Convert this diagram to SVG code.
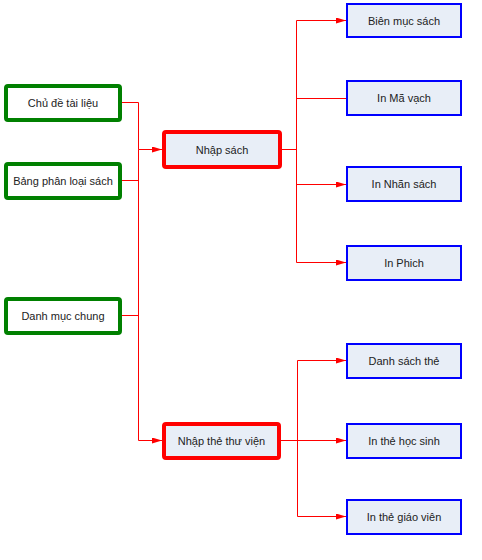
<svg xmlns="http://www.w3.org/2000/svg" width="482" height="560" viewBox="0 0 482 560">
<defs>
<style>
.g rect{fill:#ffffff;stroke:#008000;stroke-width:4}
.r rect{fill:#e8eef7;stroke:#ff0000;stroke-width:4}
.b rect{fill:#e8eef7;stroke:#0000ff;stroke-width:2}
text{font-family:"Liberation Sans",Arial,sans-serif;font-size:11px;fill:#222;text-anchor:middle;dominant-baseline:central}
.c path{fill:none;stroke:#ff0000;stroke-width:1}
</style>
<marker id="ah" viewBox="0 0 10 6" refX="10" refY="3" markerWidth="10" markerHeight="6" markerUnits="userSpaceOnUse" orient="auto">
<path d="M0,0 L10,3 L0,6 Z" fill="#ff0000"/>
</marker>
</defs>
<rect width="482" height="560" fill="#ffffff"/>
<g class="c" id="connectors">
<path d="M122,102.5 H138.5 V149.5 H162" marker-end="url(#ah)"/>
<path d="M122,180.5 H138.5"/>
<path d="M122,315.5 H138.5"/>
<path d="M138.5,149.5 V440.5 H162" marker-end="url(#ah)"/>
<path d="M282,149.5 H296.5"/>
<path d="M296.5,262.5 V20.5 H346" marker-end="url(#ah)"/>
<path d="M296.5,98.5 H346"/>
<path d="M296.5,184.5 H346" marker-end="url(#ah)"/>
<path d="M296.5,262.5 H346" marker-end="url(#ah)"/>
<path d="M281,440.5 H346" marker-end="url(#ah)"/>
<path d="M297.5,440.5 V360.5 H346" marker-end="url(#ah)"/>
<path d="M297.5,440.5 V516.5 H346" marker-end="url(#ah)"/>
</g>
<g id="chu-de" class="g"><rect x="6" y="86" width="114" height="34" rx="2"/><text x="63" y="103">Chủ đề tài liệu</text></g>
<g id="bang-phan-loai" class="g"><rect x="6" y="164" width="114" height="34" rx="2"/><text x="63" y="181">Bảng phân loại sách</text></g>
<g id="danh-muc" class="g"><rect x="6" y="299" width="114" height="34" rx="2"/><text x="63" y="316">Danh mục chung</text></g>
<g id="nhap-sach" class="r"><rect x="164" y="132" width="116" height="35" rx="2"/><text x="222" y="149.5">Nhập sách</text></g>
<g id="nhap-the" class="r"><rect x="164" y="424" width="115" height="34" rx="2"/><text x="221.5" y="441">Nhập thẻ thư viện</text></g>
<g id="bien-muc" class="b"><rect x="347" y="4" width="114" height="33"/><text x="404" y="20.5">Biên mục sách</text></g>
<g id="ma-vach" class="b"><rect x="347" y="81" width="114" height="34"/><text x="404" y="98">In Mã vạch</text></g>
<g id="nhan-sach" class="b"><rect x="347" y="167" width="114" height="34"/><text x="404" y="184">In Nhãn sách</text></g>
<g id="phich" class="b"><rect x="347" y="246" width="114" height="34"/><text x="404" y="263">In Phich</text></g>
<g id="danh-sach-the" class="b"><rect x="347" y="344" width="114" height="34"/><text x="404" y="361">Danh sách thẻ</text></g>
<g id="the-hoc-sinh" class="b"><rect x="347" y="424" width="114" height="34"/><text x="404" y="441">In thẻ học sinh</text></g>
<g id="the-giao-vien" class="b"><rect x="347" y="500" width="114" height="34"/><text x="404" y="517">In thẻ giáo viên</text></g>
</svg>
